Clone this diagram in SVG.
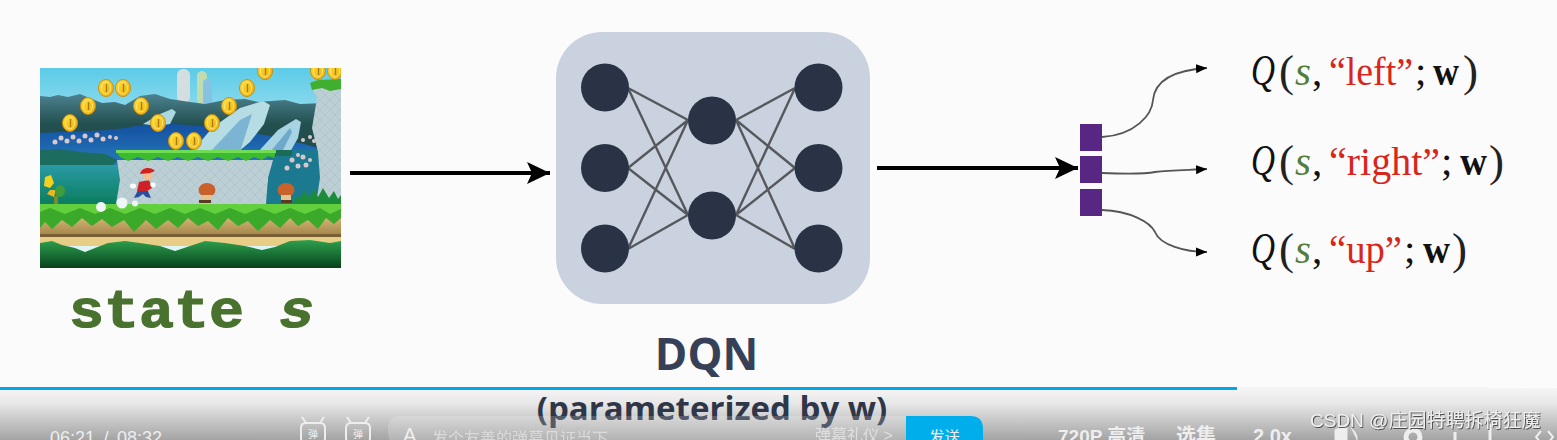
<svg xmlns="http://www.w3.org/2000/svg" xmlns:xlink="http://www.w3.org/1999/xlink" width="1557" height="440" viewBox="0 0 1557 440">
<style>
.n{fill:#2a3345}
.e{stroke:#55585c;stroke-width:2.4;fill:none}
.a{stroke:#000;stroke-width:4;fill:none}
.c{stroke:#555;stroke-width:1.8;fill:none}
.p{fill:#582683}
.q{font-family:"Liberation Serif",serif;font-size:41px;fill:#111}
.pa{font-size:45px;fill:#222}
.qq{font-size:44px}
.i{font-style:italic}
.g{fill:#4f7f3a}
.r{fill:#d8261b}
.b{font-weight:bold}
.u{font-family:"Liberation Sans","Noto Sans CJK SC",sans-serif;fill:#eee}
.f{fill:#d8c8cc}
</style>
<defs>
<marker id="big" markerUnits="userSpaceOnUse" markerWidth="26" markerHeight="26" refX="23" refY="13" orient="auto"><path d="M0,2 L23,13 L0,24 L5,13Z" fill="#000"/></marker>
<marker id="small" markerUnits="userSpaceOnUse" markerWidth="14" markerHeight="14" refX="11" refY="7" orient="auto"><path d="M0,2.5 L11,7 L0,11.5Z" fill="#000"/></marker>
<linearGradient id="bar" x1="0" y1="0" x2="0" y2="1"><stop offset="0" stop-color="#f6f4f5"/><stop offset="0.3" stop-color="#e8e7e8"/><stop offset="1" stop-color="#a3a3a3"/></linearGradient>
<linearGradient id="sky" x1="0" y1="0" x2="0" y2="1"><stop offset="0" stop-color="#5ccbe8"/><stop offset="0.5" stop-color="#cfeef3"/><stop offset="1" stop-color="#e2f5f5"/></linearGradient>
<linearGradient id="forest" x1="0" y1="0" x2="0" y2="1"><stop offset="0" stop-color="#4c8290"/><stop offset="0.45" stop-color="#24504f"/><stop offset="1" stop-color="#1f4a4c"/></linearGradient>
<linearGradient id="lake" x1="0" y1="0" x2="0" y2="1"><stop offset="0" stop-color="#14509f"/><stop offset="1" stop-color="#2a7ec0"/></linearGradient>
<linearGradient id="pond" x1="0" y1="0" x2="0" y2="1"><stop offset="0" stop-color="#2a9aa5"/><stop offset="1" stop-color="#0b7d5c"/></linearGradient>
<linearGradient id="dirt" x1="0" y1="0" x2="0" y2="1"><stop offset="0" stop-color="#dcc07a"/><stop offset="1" stop-color="#9c7d45"/></linearGradient>
<linearGradient id="bush" x1="0" y1="0" x2="0" y2="1"><stop offset="0" stop-color="#2fa04c"/><stop offset="0.7" stop-color="#125f2c"/><stop offset="1" stop-color="#073f1a"/></linearGradient>
<linearGradient id="gold" x1="0" y1="0" x2="1" y2="1"><stop offset="0" stop-color="#ffdf3a"/><stop offset="1" stop-color="#eeae0c"/></linearGradient>
<pattern id="stone" width="10" height="10" patternUnits="userSpaceOnUse"><rect width="10" height="10" fill="#bccfd4"/><path d="M0,0 L10,10 M10,0 L0,10" stroke="#aec3ca" stroke-width="0.8"/></pattern>
<clipPath id="frame"><rect x="40" y="68" width="301" height="200"/></clipPath>
<filter id="soft" x="0" y="0" width="1" height="1"><feGaussianBlur stdDeviation="0.55"/></filter>
<filter id="shadow" x="-5%" y="-20%" width="110%" height="150%"><feDropShadow dx="0.8" dy="0.8" stdDeviation="0.4" flood-color="#333"/></filter>
<g id="coin"><ellipse rx="7.5" ry="8.5" fill="url(#gold)" stroke="#c98f10" stroke-width="1"/><ellipse rx="4.6" ry="6" fill="none" stroke="#f8e878" stroke-width="1"/><path d="M0.5,-4 V4" stroke="#a87a08" stroke-width="1.3"/></g>
</defs>
<rect width="1557" height="440" fill="#fcfbfc"/>

<g id="state-image" clip-path="url(#frame)">
<g filter="url(#soft)">
<rect x="40" y="68" width="301" height="200" fill="url(#sky)"/>
<rect x="177" y="69" width="13" height="34" rx="6" fill="#d4dde0"/>
<rect x="197" y="71" width="10" height="33" rx="5" fill="#c2dcb2"/>
<rect x="203" y="79" width="9" height="26" rx="4" fill="#86c2e4"/>
<path d="M40,96 L50,97 L58,95 L68,97 L80,94 L92,99 L102,103 L115,102 L125,105 L140,96 L155,94 L170,99 L190,102 L205,104 L225,100 L245,99 L258,102 L285,100 L300,104 L325,103 V160 H40Z" fill="url(#forest)"/>
<path d="M40,133 C70,131 100,132 125,128 C145,124 160,122 175,124 C200,126 250,128 325,150 V170 H40Z" fill="url(#lake)"/>
<path d="M143,124 L160,114 L172,109 L176,112 L170,124 L158,126Z" fill="#a9d8e0"/>
<path d="M192,152 L212,128 L240,108 L263,101 L270,105 L264,124 L250,142 L238,152Z" fill="#b6dde3"/>
<path d="M210,152 L240,120 L252,114 L240,152Z" fill="#7cb5d4"/>
<path d="M258,152 L278,130 L296,119 L301,122 L298,138 L290,152Z" fill="#a7d3e2"/>
<path d="M270,152 L290,128 L292,132 L282,152Z" fill="#6ea9cc"/>
<g class="flowers"><circle class="f" cx="55" cy="142" r="2.500"/><circle class="f" cx="61" cy="138" r="2.500"/><circle class="f" cx="67" cy="141" r="2.500"/><circle class="f" cx="73" cy="137" r="2.500"/><circle class="f" cx="79" cy="141" r="2.500"/><circle class="f" cx="85" cy="136" r="2.500"/><circle class="f" cx="91" cy="140" r="2.500"/><circle class="f" cx="97" cy="135" r="2.500"/><circle class="f" cx="103" cy="139" r="2.500"/><circle class="f" cx="110" cy="137" r="2"/><circle class="f" cx="116" cy="138" r="2"/></g>
<path d="M40,150 L60,149 L80,152 L105,154 L118,160 L110,168 L40,168Z" fill="#1c6c60"/>
<rect x="40" y="165" width="82" height="40" fill="url(#pond)"/>
<path d="M268,150 H322 V204 H262 L268,180Z" fill="#1a7a90"/>
<rect x="272" y="150" width="20" height="6" fill="#1a6a58"/>
<g class="flowers"><circle class="f" cx="287" cy="168" r="2.500"/><circle class="f" cx="292" cy="160" r="2.500"/><circle class="f" cx="298" cy="166" r="2.500"/><circle class="f" cx="303" cy="157" r="2.500"/><circle class="f" cx="306" cy="165" r="2.500"/><circle class="f" cx="298" cy="155" r="2"/><circle class="f" cx="310" cy="160" r="2"/><circle class="f" cx="303" cy="140" r="2"/><circle class="f" cx="310" cy="137" r="2"/><circle class="f" cx="314" cy="141" r="2"/></g>
<path d="M312,88 L341,86 V204 H316 L320,178 L318,152 L312,128 L317,98Z" fill="url(#stone)"/>
<path d="M310,83 L318,80 L341,79 V89 L330,91 L322,88 L312,90Z" fill="#3fae2e"/>
<path d="M117,160 L273,160 L268,178 L266,204 H116 L120,180Z" fill="url(#stone)"/>
<path d="M116,151 H276 L274,158 L268,156 L262,160 L254,157 L246,161 L238,157 L228,161 L218,157 L208,161 L198,157 L188,161 L178,157 L168,161 L158,157 L148,161 L138,157 L128,161 L120,157Z" fill="#3dbb2e"/>
<path d="M116,150 H276 V153 H116Z" fill="#6fdc55"/>
<path d="M293,204 L296,196 L300,199 L304,190 L309,198 L314,189 L318,197 L323,188 L329,198 L334,191 L338,199 L341,195 V204Z" fill="#1f8c3a"/>
<rect x="40" y="214" width="301" height="24" fill="url(#dirt)"/>
<rect x="40" y="234" width="301" height="3" fill="#7a5f35"/>
<rect x="40" y="237" width="301" height="9" fill="#e8cd86"/>
<path d="M40,204 H341 V218 L334,224 L326,218 L318,229 L308,220 L298,226 L290,218 L280,228 L270,220 L258,231 L248,221 L238,226 L228,218 L218,230 L208,221 L198,226 L188,218 L178,228 L168,220 L156,229 L146,220 L134,232 L124,220 L112,227 L102,219 L92,226 L82,218 L72,227 L62,220 L52,229 L45,222 L40,228Z" fill="#3aaa2c"/>
<path d="M40,204 H341 V209 L330,214 L320,208 L305,214 L290,208 L275,214 L260,208 L245,214 L230,208 L215,214 L200,208 L185,214 L170,208 L155,214 L140,208 L125,214 L110,208 L95,214 L80,208 L65,214 L50,208 L40,212Z" fill="#62cf3c"/>
<path d="M40,243 L52,241 L62,245 L75,248 L85,252 L95,248 L108,243 L125,241 L140,243 L160,246 L175,251 L190,246 L205,241 L225,243 L245,246 L262,250 L275,247 L290,241 L310,240 L330,243 L341,241 V268 H40Z" fill="url(#bush)"/>
<use xlink:href="#coin" href="#coin" x="70" y="123"/><use xlink:href="#coin" href="#coin" x="88" y="106"/><use xlink:href="#coin" href="#coin" x="106" y="88"/><use xlink:href="#coin" href="#coin" x="123" y="88"/><use xlink:href="#coin" href="#coin" x="141" y="106"/><use xlink:href="#coin" href="#coin" x="158" y="123"/><use xlink:href="#coin" href="#coin" x="176" y="141"/><use xlink:href="#coin" href="#coin" x="194" y="141"/><use xlink:href="#coin" href="#coin" x="212" y="123"/><use xlink:href="#coin" href="#coin" x="229" y="106"/><use xlink:href="#coin" href="#coin" x="247" y="88"/><use xlink:href="#coin" href="#coin" x="265" y="71"/><use xlink:href="#coin" href="#coin" x="318" y="71"/><use xlink:href="#coin" href="#coin" x="335" y="71"/>
<path d="M134,198 L138,190 L147,189 L151,198 L146,197 L143,194 L139,197Z" fill="#2b4fa0"/>
<path d="M137,191 L139,182 L149,180 L152,188 L147,191Z" fill="#cf2226"/>
<circle cx="148" cy="176" r="4.500" fill="#f3bd8e"/>
<path d="M140,174 C141,167 151,166 155,171 L150,173Z" fill="#d3201f"/>
<ellipse cx="133" cy="186" rx="3" ry="2.400" fill="#fff"/><ellipse cx="153" cy="185" rx="2.600" ry="2.400" fill="#fff"/>
<ellipse cx="207" cy="190" rx="8.500" ry="7" fill="#c9622b"/><rect x="202" y="195" width="10" height="6" fill="#e2c48f"/><rect x="199" y="200" width="12" height="3" fill="#5a3a20"/>
<ellipse cx="286" cy="190" rx="8.500" ry="7" fill="#c9622b"/><rect x="281" y="195" width="10" height="6" fill="#e2c48f"/><rect x="281" y="200" width="11" height="3" fill="#5a3a20"/>
<circle cx="101" cy="207" r="5" fill="#eef6f6"/><circle cx="122" cy="203" r="5.500" fill="#eef6f6"/><circle cx="135" cy="203.500" r="3" fill="#eef6f6"/>
<path d="M45,177 L51,175 L54,183 L50,188 L44,186Z" fill="#f3d21e"/>
<path d="M50,190 L56,190 L54,197 L47,194Z" fill="#e8b820"/>
<ellipse cx="60" cy="191" rx="5" ry="6" fill="#3f9c3a"/>
<rect x="54" y="196" width="4" height="8" fill="#7a8c2e"/>
</g>
</g>

<text id="state-label" transform="translate(69,327) scale(1.1,1)" font-family="'Liberation Mono',monospace" font-weight="bold" font-size="53" fill="#49722f" stroke="#49722f" stroke-width="1.2">state <tspan font-style="italic">s</tspan></text>

<g id="connectors">
<path class="a" d="M350,173 H550" marker-end="url(#big)"/>
<path class="a" d="M877,168 H1078" marker-end="url(#big)"/>
<path class="c" d="M1102,137 C1135,135 1152,115 1153,100 C1155,80 1175,70 1207,68" marker-end="url(#small)"/>
<path class="c" d="M1102,173 C1130,174 1145,174 1155,172 C1170,170 1190,170 1207,169" marker-end="url(#small)"/>
<path class="c" d="M1102,210 C1130,211 1150,222 1155,232 C1160,245 1185,252 1207,252" marker-end="url(#small)"/>
</g>

<g id="dqn">
<rect x="556" y="32" width="314" height="272" rx="46" fill="#cbd2df"/>
<path class="e" d="M628,88 L688,120 M628,88 L688,215 M628,168 L688,120 M628,168 L688,215 M628,249 L688,120 M628,249 L688,215 M736,120 L795,88 M736,120 L795,168 M736,120 L795,249 M736,215 L795,88 M736,215 L795,168 M736,215 L795,249"/>
<circle class="n" cx="605" cy="87.500" r="24"/><circle class="n" cx="605" cy="168" r="24"/><circle class="n" cx="605" cy="248.500" r="24"/>
<circle class="n" cx="712" cy="120.500" r="24"/><circle class="n" cx="712" cy="215.500" r="24"/>
<circle class="n" cx="818.500" cy="87.500" r="24"/><circle class="n" cx="818.500" cy="168" r="24"/><circle class="n" cx="818.500" cy="248.500" r="24"/>
</g>

<g id="output-units">
<rect class="p" x="1080" y="124" width="22" height="27"/>
<rect class="p" x="1080" y="156" width="22" height="27"/>
<rect class="p" x="1080" y="189" width="22" height="27"/>
</g>

<g id="q-left">
<text class="q i qq" x="1251" y="85" textLength="24" lengthAdjust="spacingAndGlyphs">Q</text><text class="q pa" x="1279" y="86">(</text><text class="q i g" x="1295" y="85">s</text><text class="q" x="1312" y="85">,</text><text class="q r" x="1329" y="85" textLength="84" lengthAdjust="spacingAndGlyphs">“left”</text><text class="q" x="1415" y="85">;</text><text class="q b" x="1433" y="85" textLength="26" lengthAdjust="spacingAndGlyphs">w</text><text class="q pa" x="1463" y="86">)</text>
</g>
<g id="q-right">
<text class="q i qq" x="1251" y="175" textLength="24" lengthAdjust="spacingAndGlyphs">Q</text><text class="q pa" x="1279" y="176">(</text><text class="q i g" x="1295" y="175">s</text><text class="q" x="1312" y="175">,</text><text class="q r" x="1329" y="175" textLength="111" lengthAdjust="spacingAndGlyphs">“right”</text><text class="q" x="1441" y="175">;</text><text class="q b" x="1460" y="175" textLength="27" lengthAdjust="spacingAndGlyphs">w</text><text class="q pa" x="1489" y="176">)</text>
</g>
<g id="q-up">
<text class="q i qq" x="1251" y="263" textLength="24" lengthAdjust="spacingAndGlyphs">Q</text><text class="q pa" x="1279" y="264">(</text><text class="q i g" x="1295" y="263">s</text><text class="q" x="1312" y="263">,</text><text class="q r" x="1329" y="263" textLength="73" lengthAdjust="spacingAndGlyphs">“up”</text><text class="q" x="1404" y="263">;</text><text class="q b" x="1423" y="263" textLength="27" lengthAdjust="spacingAndGlyphs">w</text><text class="q pa" x="1452" y="264">)</text>
</g>

<g id="player-bar">
<rect x="0" y="388" width="1557" height="52" fill="url(#bar)"/>
<rect x="0" y="387" width="1237" height="3" fill="#00a8e6"/>
<rect x="1237" y="387" width="250" height="3" fill="#f4f4f4"/>
</g>

<g id="dqn-label" font-family="'Open Sans','Noto Sans',sans-serif" font-weight="bold" text-anchor="middle" fill="#364157">
<text x="706.500" y="370" font-size="44">DQN</text>
<text x="712" y="420" font-size="33" fill="#2e3648">(parameterized by w)</text>
</g>

<g id="player-controls">
<rect x="388" y="416" width="530" height="30" rx="12" fill="#fff" opacity=".18"/>
<path d="M906,440 V416 H970 Q983,416 983,429 V440Z" fill="#00aeec"/>
<text class="u" x="50" y="444" font-size="18" word-spacing="3.500">06:21 / 08:32</text>
<path d="M301,428 Q301,423 306,423 H320 Q325,423 325,428 V438 Q325,443 320,443 H306 Q301,443 301,438Z M346,428 Q346,423 351,423 H365 Q370,423 370,428 V438 Q370,443 365,443 H351 Q346,443 346,438Z M306,423 L302,417 M320,423 L324,417 M351,423 L347,417 M365,423 L369,417" fill="none" stroke="#eee" stroke-width="2"/>
<text class="u" x="313" y="438" font-size="10" text-anchor="middle">弹</text>
<text class="u" x="358" y="438" font-size="10" text-anchor="middle">弹</text>
<text class="u" x="403" y="442" font-size="20">A</text>
<text class="u" x="432" y="444" font-size="16" opacity=".6">发个友善的弹幕见证当下</text>
<text class="u" x="815" y="441" font-size="16" opacity=".7">弹幕礼仪 &gt;</text>
<text class="u" x="929" y="443" font-size="15.500" fill="#fff">发送</text>
<text class="u" x="1058" y="443" font-size="19" font-weight="bold">720P 高清</text>
<text class="u" x="1176" y="443" font-size="20" font-weight="bold">选集</text>
<text class="u" x="1253" y="443" font-size="20" font-weight="bold">2.0x</text>
<path d="M1335,440 V430 L1347,424 V440Z M1351,428 Q1358,434 1357,440" fill="#eee" stroke="#eee"/>
<circle cx="1413" cy="437" r="7" fill="none" stroke="#eee" stroke-width="5"/>
<path d="M1455,432 V440 M1490,424 V440" stroke="#eee" stroke-width="3"/>
<path d="M1541,431 L1536,437 L1541,443 M1548,431 L1553,437 L1548,443" stroke="#eee" stroke-width="2" fill="none"/>
</g>

<text id="watermark" x="1310" y="427" font-family="'Liberation Sans','Noto Sans CJK SC',sans-serif" font-size="19" fill="#efefef" filter="url(#shadow)">CSDN @庄园特聘拆椅狂魔</text>
</svg>
